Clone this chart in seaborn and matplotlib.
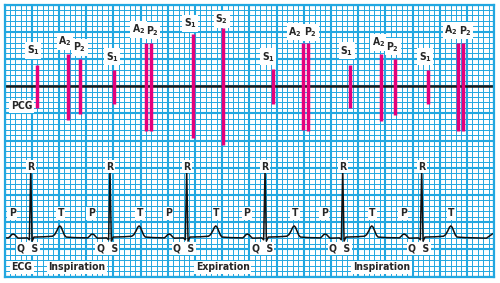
import matplotlib
matplotlib.use("Agg")
import matplotlib.pyplot as plt
import seaborn as sns
import numpy as np
import pandas as pd

# ---------------- data ----------------
# PCG sound components (x position in small grid squares, bar top / bottom)
pcg_labels = ["S1", "A2", "P2", "S1", "A2", "P2",
              "S1", "S2", "S1", "A2", "P2",
              "S1", "A2", "P2", "S1", "A2", "P2"]
pcg_x = [6.0, 11.6, 13.9, 20.2, 26.0, 26.9,
         34.6, 40.2, 49.3, 54.8, 55.7,
         63.6, 69.2, 71.8, 77.8, 83.4, 84.3]
pcg_top = [38.9, 40.9, 39.9, 38.0, 42.9, 42.9,
           44.5, 45.7, 38.1, 43.0, 42.9,
           38.9, 40.9, 39.9, 38.0, 42.9, 42.9]
pcg_bottom = [31.0, 28.8, 29.8, 31.8, 26.8, 26.8,
              25.4, 24.2, 31.8, 26.9, 26.8,
              30.9, 28.6, 29.7, 31.7, 26.8, 26.8]

# label anchor points for the PCG component names
pcg_label_x = [5.3, 11.1, 13.8, 19.8, 24.6, 27.2,
               34.1, 39.9, 48.5, 53.4, 56.3,
               62.9, 68.7, 71.4, 77.3, 82.1, 84.65]
pcg_label_y = [41.6, 43.2, 42.1, 40.4, 45.4, 45.2,
               46.5, 47.3, 40.4, 45.0, 44.9,
               41.5, 43.05, 42.2, 40.4, 45.3, 45.2]

# ECG: R-peak positions and a one-beat waveform (offset from R, amplitude)
r_peaks = [4.82, 19.39, 33.49, 47.89, 62.17, 76.69]
beat_dx = [-4.1, -3.8, -3.5, -3.2, -2.9, -2.6, -2.3,
           -0.6, -0.25, 0.0, 0.25, 0.6, 2.5, 4.0,
           4.4, 4.8, 5.1, 5.35, 5.6, 5.9, 6.2, 6.5, 8.0]
beat_y = [7.1, 7.35, 7.7, 7.8, 7.65, 7.3, 7.05,
          7.1, 6.75, 19.6, 6.5, 7.25, 7.3, 7.4,
          7.7, 8.4, 9.05, 9.3, 9.05, 8.3, 7.6, 7.25, 7.15]
lead_x, lead_y = [0.0], [7.1]
tail_x, tail_y = [88.6, 89.8], [7.05, 7.9]

phase_labels = ["ECG", "Inspiration", "Expiration", "Inspiration"]
phase_x = [3.16, 13.3, 40.1, 69.3]

# ---------------- style ----------------
sns.set_theme(style="white")
plt.rcParams["font.family"] = ["Liberation Sans Narrow", "DejaVu Sans"]
plt.rcParams["font.weight"] = "bold"
plt.rcParams["font.stretch"] = "condensed"

BLUE = "#22A7E0"
MAGENTA = "#E4007C"

fig = plt.figure(figsize=(5.0, 2.83), dpi=100)
ax = fig.add_axes([4.5 / 500, 1 - 276.5 / 283, 489.6 / 500, 272.0 / 283])
ax.set_xlim(0, 90)
ax.set_ylim(0, 50)
ax.set_xticks(np.arange(0, 91, 5))
ax.set_xticks(np.arange(0, 91, 1), minor=True)
ax.set_yticks(np.arange(0, 51, 5))
ax.set_yticks(np.arange(0, 51, 1), minor=True)
ax.tick_params(which="both", length=0, labelbottom=False, labelleft=False)
ax.grid(which="major", color=BLUE, lw=1.5)
ax.grid(which="minor", color=BLUE, lw=0.7)
ax.set_axisbelow(True)
for s in ax.spines.values():
    s.set_color(BLUE)
    s.set_linewidth(1.6)

# PCG baseline
ax.axhline(35, color="#1a1a1a", lw=1.8, zorder=2)

# PCG bars
ax.vlines(pcg_x, pcg_bottom, pcg_top, color=MAGENTA, lw=2.5, zorder=3,
          capstyle="butt")

box = dict(boxstyle="square,pad=0.15", fc="white", ec="none")
FS = 7.5

def sub(lbl):
    return r"$\mathregular{%s_{%s}}$" % (lbl[0], lbl[1])

for lbl, lx, ly in zip(pcg_labels, pcg_label_x, pcg_label_y):
    ax.text(lx, ly, sub(lbl), ha="center", va="center",
            fontsize=FS, fontweight="bold", bbox=box, zorder=5)

ax.text(3.16, 31.3, "PCG", ha="center", va="center", fontsize=FS,
        fontweight="bold", bbox=box, zorder=5)

# ECG trace
ex, ey = list(lead_x), list(lead_y)
for r in r_peaks:
    ex += [r + d for d in beat_dx]
    ey += beat_y
ex += tail_x
ey += tail_y
ecg = pd.DataFrame({"x": ex, "y": ey})
sns.lineplot(data=ecg, x="x", y="y", ax=ax, color="#111111", lw=1.1,
             sort=False, estimator=None, zorder=2)
ax.set_xlabel("")
ax.set_ylabel("")
ax.set_xlim(0, 90)
ax.set_ylim(0, 50)

for r in r_peaks:
    ax.text(r, 20.2, "R", ha="center", va="center", fontsize=FS, bbox=box, zorder=5)
    ax.text(r - 3.4, 11.6, "P", ha="center", va="center", fontsize=FS, bbox=box, zorder=5)
    ax.text(r + 5.5, 11.6, "T", ha="center", va="center", fontsize=FS, bbox=box, zorder=5)
    ax.text(r - 0.5, 5.2, "Q  S", ha="center", va="center", fontsize=FS, bbox=box, zorder=5)

for lbl, x in zip(phase_labels, phase_x):
    ax.text(x, 1.7, lbl, ha="center", va="center", fontsize=FS, bbox=box, zorder=5)

fig.savefig("out.png", dpi=100)
